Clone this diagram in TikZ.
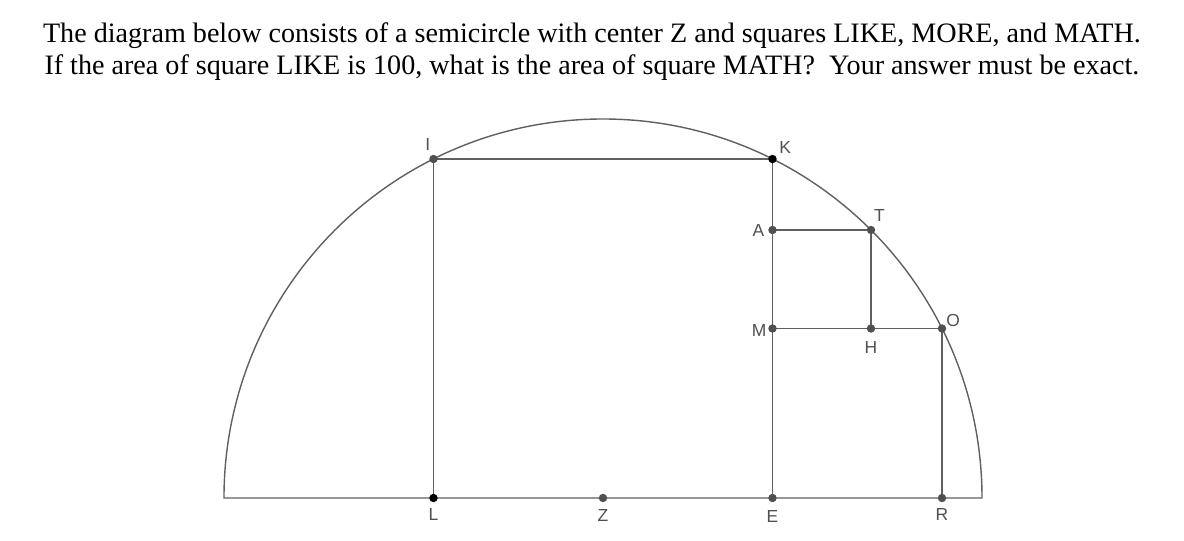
\documentclass[tikz,border=0pt]{standalone}
\usepackage{fontspec}
\setmainfont{Liberation Serif}
\newfontfamily\lblfont{Liberation Sans}
\definecolor{G1}{RGB}{96,96,96}
\definecolor{G2}{RGB}{80,80,80}
\tikzset{
  edge/.style={G1, line width=1pt},
  dot/.style={circle, fill=G2, inner sep=0pt, minimum size=6pt},
  bdot/.style={dot, fill=black},
  lbl/.style={text=G2, font=\lblfont\fontsize{12.4}{14}\selectfont, inner sep=0pt},
  ttl/.style={anchor=base, font=\fontsize{20}{24}\selectfont},
}
\begin{document}
\begin{tikzpicture}[x=4.2375cm, y=4.2375cm]
  \useasboundingbox (-3.5575,-0.2478) rectangle (3.4277,2.9381);
  \pgfmathsetmacro{\rad}{sqrt(5)}
  \pgfmathsetmacro{\sq}{sqrt(2.5)}
  % question
  \node[ttl] (title1) at (-0.065,2.690) {The diagram below consists of a semicircle with center Z and squares LIKE, MORE, and MATH.};
  \node[ttl] (title2) at (-0.065,2.501) {If the area of square LIKE is 100, what is the area of square MATH?~ Your answer must be exact.};
  % points
  \coordinate (Z) at (0,0);
  \coordinate (L) at (-1,0);
  \coordinate (E) at (1,0);
  \coordinate (R) at (2,0);
  \coordinate (I) at (-1,2);
  \coordinate (K) at (1,2);
  \coordinate (M) at (1,1);
  \coordinate (O) at (2,1);
  \coordinate (A) at (1,\sq);
  \coordinate (T) at (\sq,\sq);
  \coordinate (H) at (\sq,1);
  % semicircle and squares
  \draw[edge] (\rad,0) arc (0:180:\rad) -- cycle;
  \draw[edge] (L) -- (I) -- (K) -- (E);
  \draw[edge] (M) -- (O) -- (R);
  \draw[edge] (A) -- (T) -- (H);
  \foreach \p in {I,A,T,M,H,O,Z,E,R}
    \node[dot] (d\p) at (\p) {};
  \node[bdot] (dK) at (K) {};
  \node[bdot] (dL) at (L) {};
  % labels
  \node[lbl, xshift=-4pt, yshift=10pt] (lI) at (I) {I};
  \node[lbl, xshift=9pt, yshift=8pt] (lK) at (K) {K};
  \node[lbl, xshift=-10pt, yshift=-0.7pt] (lA) at (A) {A};
  \node[lbl, xshift=6pt, yshift=10pt] (lT) at (T) {T};
  \node[lbl, xshift=-9.5pt, yshift=-1.4pt] (lM) at (M) {M};
  \node[lbl, yshift=-13.5pt] (lH) at (H) {H};
  \node[lbl, xshift=8pt, yshift=6pt] (lO) at (O) {O};
  \node[lbl, yshift=-12pt] (lL) at (L) {L};
  \node[lbl, yshift=-12.5pt] (lZ) at (Z) {Z};
  \node[lbl, yshift=-13.5pt] (lE) at (E) {E};
  \node[lbl, yshift=-12pt] (lR) at (R) {R};
\end{tikzpicture}
\end{document}
